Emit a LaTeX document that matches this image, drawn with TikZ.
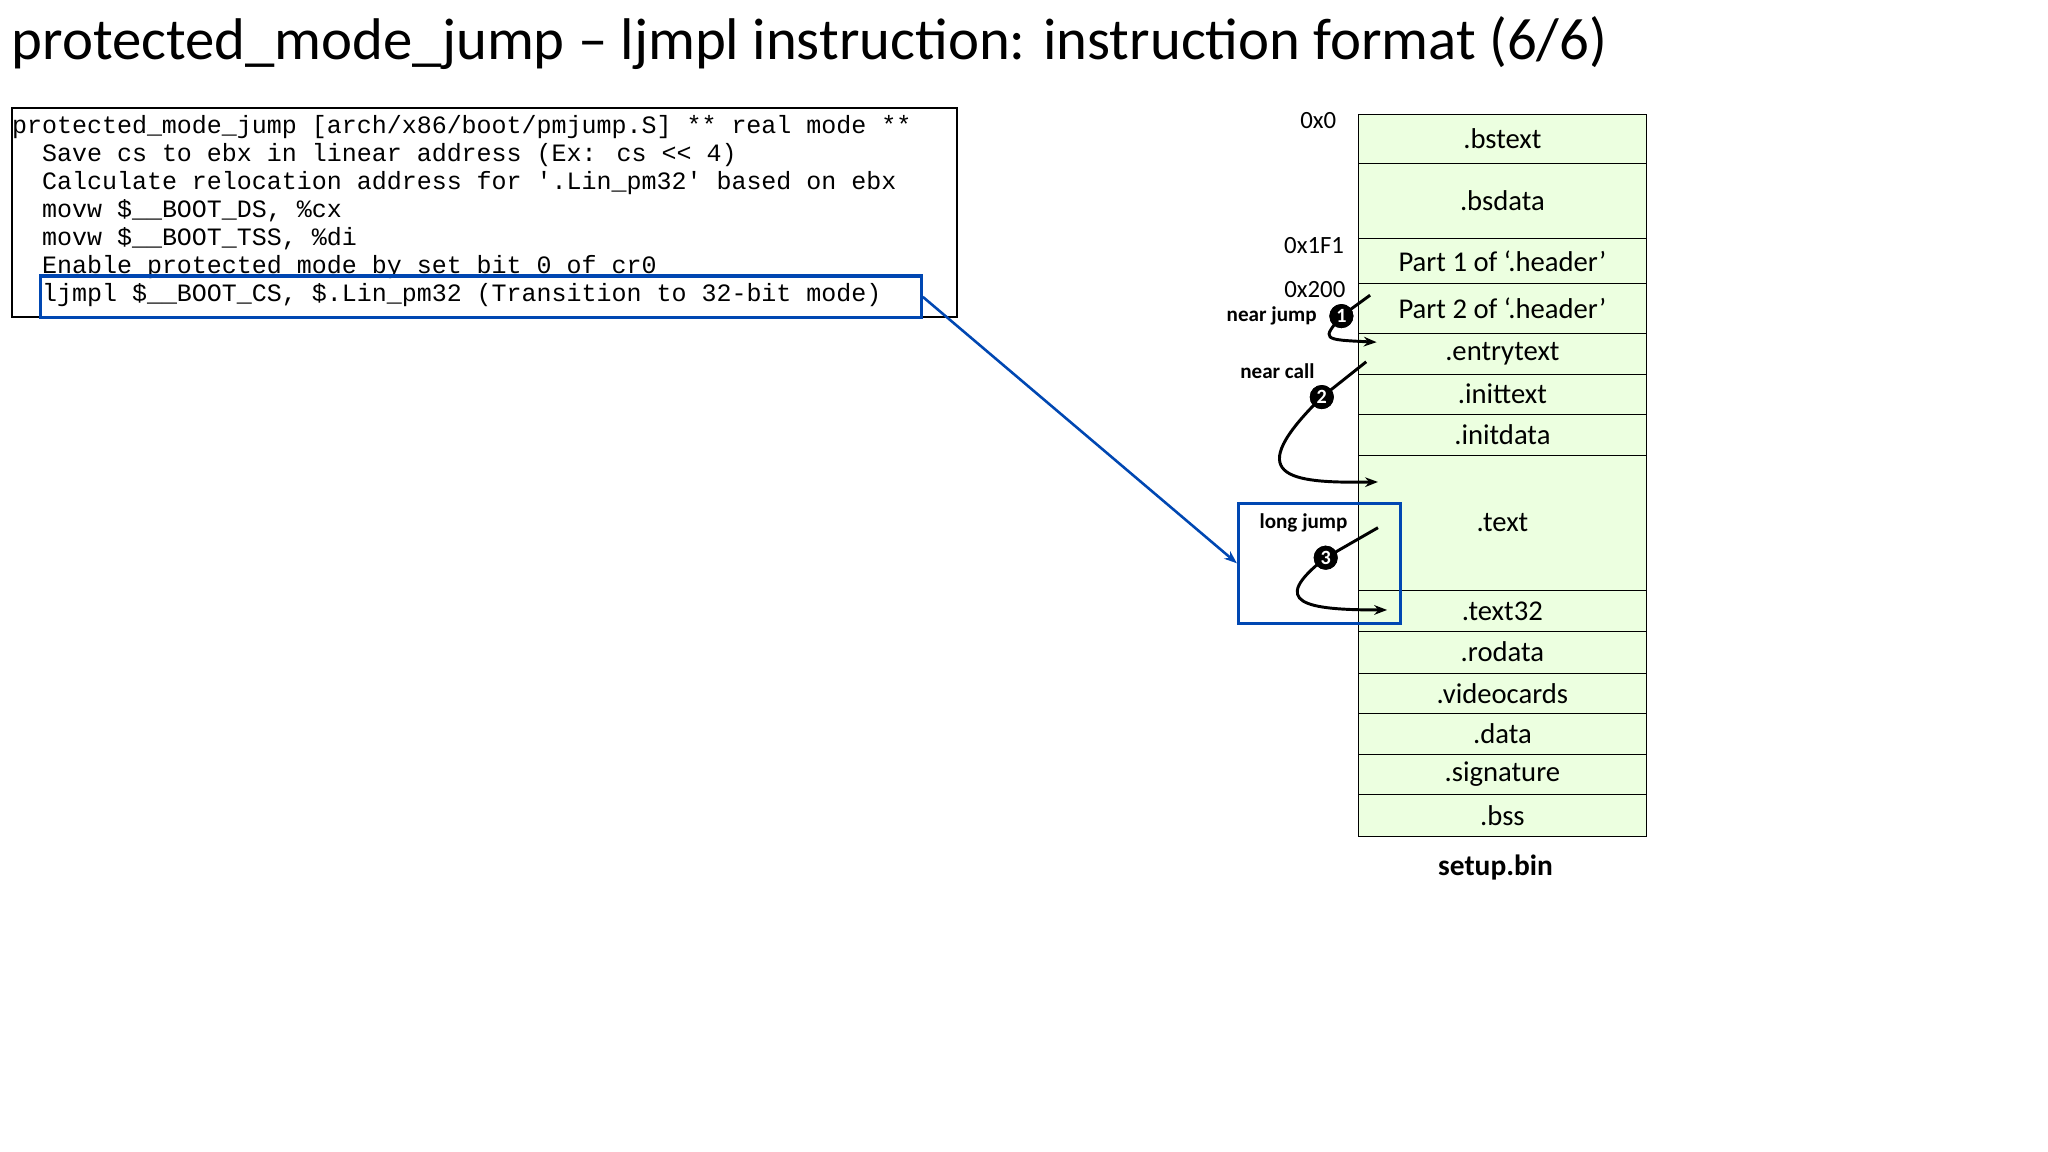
\documentclass[tikz,border=0pt]{standalone}
\usepackage{fontspec}
\setmainfont{Carlito}
\newfontfamily\codefont{Liberation Mono}
\usetikzlibrary{arrows.meta}
\begin{document}
\begin{tikzpicture}[x=0.025cm, y=-0.025cm,
    seg/.style={draw, fill=green!50!lime!12, font=\fontsize{15.6}{18}\selectfont, anchor=north west, minimum width=220*0.025cm, inner sep=0pt},
    addr/.style={anchor=east, font=\fontsize{13.5}{15}\selectfont},
    jlabel/.style={font=\fontsize{11.5}{13}\selectfont\bfseries},
    badge/.style={circle, fill=black, text=white, inner sep=0pt, minimum size=0.46cm, font=\fontsize{11}{12}\selectfont\bfseries},
    flow/.style={line width=1.6pt, -{Stealth[length=7pt]}},
    blue box/.style={draw=blue!60!cyan!70!black, line width=1.8pt},
]
    \useasboundingbox (0,0) rectangle (1568,882);

    \node[anchor=west, font=\fontsize{32}{36}\selectfont] (title) at (4,33)
        {protected\_mode\_jump -- ljmpl instruction: instruction format (6/6)};

    % source listing
    \draw[line width=1pt] (9,83) rectangle (733,243);
    \node[anchor=north west, inner sep=0pt, align=left, font=\codefont\fontsize{13.6}{15.24}\selectfont] (code) at (9,88)
        {protected\_mode\_jump [arch/x86/boot/pmjump.S] ** real mode **\\
        \ \ Save cs to ebx in linear address (Ex: cs << 4)\\
        \ \ Calculate relocation address for '.Lin\_pm32' based on ebx\\
        \ \ movw \$\_\_BOOT\_DS, \%cx\\
        \ \ movw \$\_\_BOOT\_TSS, \%di\\
        \ \ Enable protected mode by set bit 0 of cr0\\
        \ \ ljmpl \$\_\_BOOT\_CS, \$.Lin\_pm32 (Transition to 32-bit mode)};
    \node[blue box, inner sep=0pt, minimum width=674*0.025cm, minimum height=32*0.025cm, anchor=north west] (ljmp) at (30,210) {};

    % setup.bin layout
    \foreach \name/\top/\bot/\txt in {
        bstext/87/125/.bstext, bsdata/125/182/.bsdata, hdra/182/217/Part 1 of ‘.header’,
        hdrb/217/255/Part 2 of ‘.header’, entry/255/286/.entrytext, inittext/286/317/.inittext,
        initdata/317/348/.initdata, text/348/452/.text, textb/452/483/.text32,
        rodata/483/515/.rodata, video/515/546/.videocards, data/546/577/.data,
        sig/577/608/.signature, bss/608/640/.bss}
        \node[seg, minimum height=(\bot-\top)*0.025cm] (\name) at (1040,\top) {\txt};
    \node[font=\fontsize{16}{18}\selectfont\bfseries] (bin) at (1145,664) {setup.bin};

    \node[addr] (a0) at (1028,92) {0x0};
    \node[addr] (a1) at (1034,188) {0x1F1};
    \node[addr] (a2) at (1035,222) {0x200};

    % jumps
    \node[blue box, inner sep=0pt, minimum width=124*0.025cm, minimum height=92*0.025cm, anchor=north west] (zoombox) at (947,384) {};
    \coordinate (s1) at (1049,226); \coordinate (e1) at (1054,262);
    \coordinate (s2) at (1046,277); \coordinate (e2) at (1055,369);
    \coordinate (s3) at (1055,404); \coordinate (e3) at (1062,467);
    \node[badge] (n1) at (1027,242) {1};
    \node[badge] (n2) at (1012,304) {2};
    \node[badge] (n3) at (1015,427) {3};
    \draw[flow] (s1) -- (n1.center) .. controls (1012,260) .. (e1);
    \draw[flow] (s2) -- (n2.center) .. controls (950,365) and (985,370) .. (e2);
    \draw[flow] (s3) -- (n3.center) .. controls (970,462) and (1000,467) .. (e3);
    \node[badge] at (n1) {1};
    \node[badge] at (n2) {2};
    \node[badge] at (n3) {3};
    \node[jlabel, anchor=east] (l1) at (1013,242) {near jump};
    \node[jlabel] (l2) at (978,284) {near call};
    \node[jlabel] (l3) at (998,400) {long jump};

    \draw[blue box, line width=1.4pt, -{Stealth[length=7pt]}] (ljmp.east) -- (zoombox.west);
\end{tikzpicture}
\end{document}
